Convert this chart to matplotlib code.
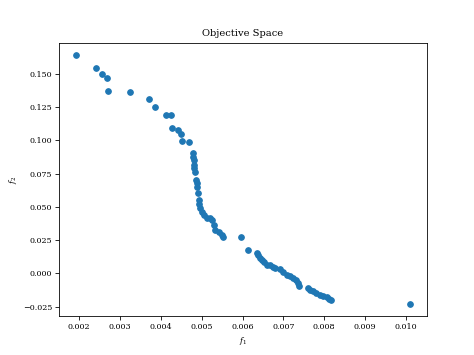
import numpy as np
import matplotlib
matplotlib.use("Agg")
import matplotlib.pyplot as plt

plt.rcParams['font.family'] = 'DejaVu Serif'
plt.rcParams['mathtext.fontset'] = 'dejavuserif'
plt.rcParams['font.size'] = 7.8
plt.rcParams['axes.titlesize'] = 9.6

# objective values
f1 = [0.00192, 0.002416, 0.002546, 0.002685, 0.002709, 0.003255, 0.003705, 0.003859,
      0.004128, 0.004251, 0.004275, 0.004422, 0.004503, 0.004520, 0.004691, 0.004789,
      0.004796, 0.004801, 0.004806, 0.004821, 0.004845, 0.004862, 0.004879, 0.004894,
      0.004919, 0.004936, 0.004943, 0.004960, 0.004997, 0.005058, 0.005124, 0.005205,
      0.005254, 0.005303, 0.005335, 0.005432, 0.005491, 0.005516, 0.005956, 0.006122,
      0.006347, 0.006387, 0.006428, 0.006484, 0.006526, 0.006592, 0.006673, 0.006753,
      0.006795, 0.006917, 0.006998, 0.007081, 0.007162, 0.007243, 0.007309, 0.007365,
      0.007390, 0.007610, 0.007651, 0.007732, 0.007810, 0.007896, 0.007977, 0.008067,
      0.008124, 0.008158, 0.010098]
f2 = [0.1642, 0.1544, 0.1499, 0.1467, 0.1373, 0.1361, 0.1313, 0.1251,
      0.1191, 0.1191, 0.1095, 0.1075, 0.1045, 0.0995, 0.0989, 0.0902,
      0.0876, 0.0852, 0.0814, 0.0789, 0.0764, 0.0701, 0.0676, 0.0646,
      0.0601, 0.0550, 0.0518, 0.0488, 0.0462, 0.0437, 0.0420, 0.0413,
      0.0400, 0.0362, 0.0325, 0.0312, 0.0287, 0.0274, 0.0270, 0.0174,
      0.0154, 0.0136, 0.0119, 0.0104, 0.0086, 0.0066, 0.0061, 0.0048,
      0.0041, 0.0029, 0.0011, -0.0009, -0.0022, -0.0035, -0.0052, -0.0069,
      -0.0095, -0.0108, -0.0127, -0.0135, -0.0148, -0.0160, -0.0170, -0.0180,
      -0.0190, -0.0200, -0.0227]

fig = plt.figure(figsize=(474 / 74, 355 / 74), dpi=74)
ax = fig.add_subplot(111)
ax.scatter(f1, f2, s=30)
ax.set_title('Objective Space')
ax.set_xlabel('$f_1$')
ax.set_ylabel('$f_2$')

fig.savefig('out.png', dpi=74)
